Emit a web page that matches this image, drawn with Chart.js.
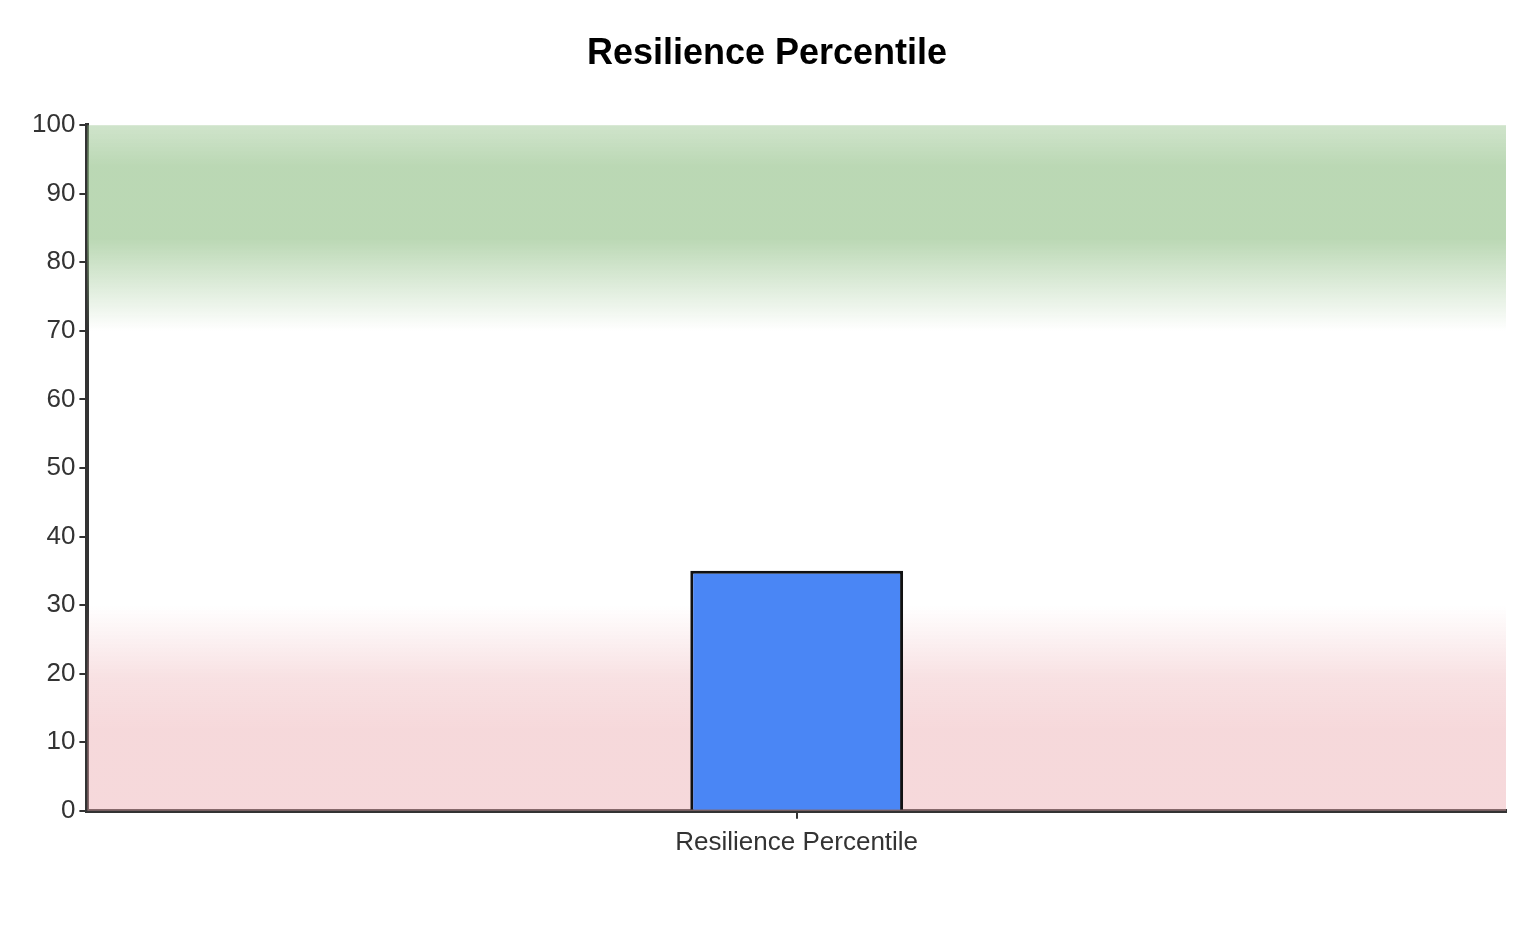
<!DOCTYPE html>
<html lang="en">
<head>
<meta charset="UTF-8">
<script src="https://cdn.jsdelivr.net/npm/chart.js"></script>
<title>Resilience Percentile</title>
<style>
  html, body { margin: 0; background: #fff; }
  #wrap { width: 1536px; height: 926px; }
</style>
</head>
<body>
<div id="wrap"><canvas id="myChart"></canvas></div>
<script>
const categories = ['Resilience Percentile'];
const values = [35];
const yTicks = [0, 10, 20, 30, 40, 50, 60, 70, 80, 90, 100];
const goodBand = [70, 100];
const poorBand = [0, 30];

// shaded zones painted behind the bars
const bandPlugin = {
  id: 'bands',
  beforeDatasetsDraw(chart) {
    const { ctx, chartArea: a, scales: { y } } = chart;
    const gTop = y.getPixelForValue(goodBand[1]), gBot = y.getPixelForValue(goodBand[0]);
    let g = ctx.createLinearGradient(0, gTop, 0, gBot);
    g.addColorStop(0, 'rgba(150,195,140,0.45)');
    g.addColorStop(0.2, 'rgba(150,195,140,0.65)');
    g.addColorStop(0.55, 'rgba(150,195,140,0.65)');
    g.addColorStop(1, 'rgba(150,195,140,0)');
    ctx.fillStyle = g;
    ctx.fillRect(a.left, gTop, a.right - a.left, gBot - gTop);

    const rTop = y.getPixelForValue(poorBand[1]), rBot = y.getPixelForValue(poorBand[0]);
    let r = ctx.createLinearGradient(0, rTop, 0, rBot);
    r.addColorStop(0, 'rgba(235,170,175,0)');
    r.addColorStop(0.35, 'rgba(235,170,175,0.35)');
    r.addColorStop(0.6, 'rgba(235,170,175,0.45)');
    r.addColorStop(1, 'rgba(235,170,175,0.45)');
    ctx.fillStyle = r;
    ctx.fillRect(a.left, rTop, a.right - a.left, rBot - rTop);
  }
};

const ctx = document.getElementById('myChart').getContext('2d');
new Chart(ctx, {
  type: 'bar',
  data: {
    labels: categories,
    datasets: [{
      data: values,
      backgroundColor: '#4a86f5',
      borderColor: '#111',
      borderWidth: 3,
      barPercentage: 0.15,
      categoryPercentage: 1
    }]
  },
  options: {
    responsive: true,
    maintainAspectRatio: false,
    animation: false,
    layout: { padding: { left: 28, right: 30, top: 10, bottom: 60 } },
    plugins: {
      legend: { display: false },
      tooltip: { enabled: false },
      title: {
        display: true,
        text: 'Resilience Percentile',
        color: '#000',
        font: { family: 'Liberation Sans, Arial', size: 36, weight: 'bold' },
        padding: { top: 22, bottom: 50 }
      }
    },
    scales: {
      x: {
        grid: { drawOnChartArea: false, tickLength: 8, color: '#333', lineWidth: 2, offset: false },
        border: { color: '#333', width: 4 },
        ticks: { color: '#333', font: { family: 'Liberation Sans, Arial', size: 26 }, padding: 8 }
      },
      y: {
        min: 0, max: 100,
        afterBuildTicks(s) { s.ticks = yTicks.map(v => ({ value: v })); },
        grid: { drawOnChartArea: false, tickLength: 8, color: '#333', lineWidth: 2 },
        border: { color: '#333', width: 4 },
        ticks: { color: '#333', font: { family: 'Liberation Sans, Arial', size: 26 }, padding: 4 }
      }
    }
  },
  plugins: [bandPlugin]
});
</script>
</body>
</html>
